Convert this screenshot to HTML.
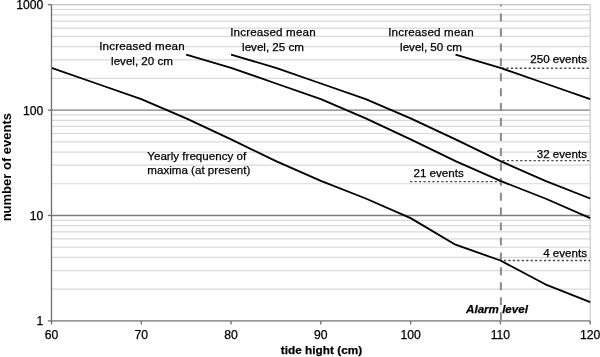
<!DOCTYPE html>
<html><head><meta charset="utf-8"><style>html,body{margin:0;padding:0;background:#fff;}svg{display:block;}</style></head>
<body>
<svg width="600" height="357" viewBox="0 0 600 357">
<rect width="600" height="357" fill="#fff"/>
<line x1="51.5" x2="590.2" y1="289.17" y2="289.17" stroke="#d9d9d9" stroke-width="1.2"/>
<line x1="51.5" x2="590.2" y1="270.61" y2="270.61" stroke="#d9d9d9" stroke-width="1.2"/>
<line x1="51.5" x2="590.2" y1="257.44" y2="257.44" stroke="#d9d9d9" stroke-width="1.2"/>
<line x1="51.5" x2="590.2" y1="247.23" y2="247.23" stroke="#d9d9d9" stroke-width="1.2"/>
<line x1="51.5" x2="590.2" y1="238.88" y2="238.88" stroke="#d9d9d9" stroke-width="1.2"/>
<line x1="51.5" x2="590.2" y1="231.83" y2="231.83" stroke="#d9d9d9" stroke-width="1.2"/>
<line x1="51.5" x2="590.2" y1="225.71" y2="225.71" stroke="#d9d9d9" stroke-width="1.2"/>
<line x1="51.5" x2="590.2" y1="220.32" y2="220.32" stroke="#d9d9d9" stroke-width="1.2"/>
<line x1="51.5" x2="590.2" y1="183.77" y2="183.77" stroke="#d9d9d9" stroke-width="1.2"/>
<line x1="51.5" x2="590.2" y1="165.21" y2="165.21" stroke="#d9d9d9" stroke-width="1.2"/>
<line x1="51.5" x2="590.2" y1="152.04" y2="152.04" stroke="#d9d9d9" stroke-width="1.2"/>
<line x1="51.5" x2="590.2" y1="141.83" y2="141.83" stroke="#d9d9d9" stroke-width="1.2"/>
<line x1="51.5" x2="590.2" y1="133.48" y2="133.48" stroke="#d9d9d9" stroke-width="1.2"/>
<line x1="51.5" x2="590.2" y1="126.43" y2="126.43" stroke="#d9d9d9" stroke-width="1.2"/>
<line x1="51.5" x2="590.2" y1="120.31" y2="120.31" stroke="#d9d9d9" stroke-width="1.2"/>
<line x1="51.5" x2="590.2" y1="114.92" y2="114.92" stroke="#d9d9d9" stroke-width="1.2"/>
<line x1="51.5" x2="590.2" y1="78.37" y2="78.37" stroke="#d9d9d9" stroke-width="1.2"/>
<line x1="51.5" x2="590.2" y1="59.81" y2="59.81" stroke="#d9d9d9" stroke-width="1.2"/>
<line x1="51.5" x2="590.2" y1="46.64" y2="46.64" stroke="#d9d9d9" stroke-width="1.2"/>
<line x1="51.5" x2="590.2" y1="36.43" y2="36.43" stroke="#d9d9d9" stroke-width="1.2"/>
<line x1="51.5" x2="590.2" y1="28.08" y2="28.08" stroke="#d9d9d9" stroke-width="1.2"/>
<line x1="51.5" x2="590.2" y1="21.03" y2="21.03" stroke="#d9d9d9" stroke-width="1.2"/>
<line x1="51.5" x2="590.2" y1="14.91" y2="14.91" stroke="#d9d9d9" stroke-width="1.2"/>
<line x1="51.5" x2="590.2" y1="9.52" y2="9.52" stroke="#d9d9d9" stroke-width="1.2"/>
<line x1="51.5" x2="590.2" y1="215.50" y2="215.50" stroke="#7d7d7d" stroke-width="1.3"/>
<line x1="51.5" x2="590.2" y1="110.10" y2="110.10" stroke="#7d7d7d" stroke-width="1.3"/>
<line x1="51.5" x2="590.2" y1="4.7" y2="4.7" stroke="#c4c4c4" stroke-width="1.3"/>
<line x1="590.2" x2="590.2" y1="4.70" y2="320.9" stroke="#c8c8c8" stroke-width="1.2"/>
<line x1="500.9" x2="500.9" y1="4.70" y2="320.9" stroke="#8a8a8a" stroke-width="2" stroke-dasharray="8 6.93" stroke-dashoffset="6.10"/>
<line x1="501.9" x2="590" y1="68.25" y2="68.25" stroke="#4a4a4a" stroke-width="1.3" stroke-dasharray="2.25 2.2"/>
<line x1="502.4" x2="590" y1="160.7" y2="160.7" stroke="#4a4a4a" stroke-width="1.3" stroke-dasharray="2.25 2.2"/>
<line x1="410.1" x2="500" y1="181.6" y2="181.6" stroke="#4a4a4a" stroke-width="1.3" stroke-dasharray="2.25 2.2"/>
<line x1="503.9" x2="590" y1="260.5" y2="260.5" stroke="#4a4a4a" stroke-width="1.3" stroke-dasharray="2.25 2.2"/>
<polyline points="51.50,67.80 96.39,83.50 141.28,99.10 186.18,118.30 231.07,139.30 275.96,161.10 320.85,180.90 365.74,198.50 410.63,218.10 455.53,244.70 500.42,260.50 545.31,284.30 590.20,302.20" fill="none" stroke="#000" stroke-width="1.85" stroke-linejoin="round"/>
<polyline points="186.18,54.60 231.07,67.80 275.96,83.50 320.85,99.10 365.74,118.30 410.63,139.30 455.53,161.10 500.42,180.90 545.31,198.50 590.20,218.10" fill="none" stroke="#000" stroke-width="1.85" stroke-linejoin="round"/>
<polyline points="231.07,54.60 275.96,67.80 320.85,83.50 365.74,99.10 410.63,118.30 455.53,139.30 500.42,161.10 545.31,180.90 590.20,198.50" fill="none" stroke="#000" stroke-width="1.85" stroke-linejoin="round"/>
<polyline points="455.53,54.60 500.42,67.80 545.31,83.50 590.20,99.10" fill="none" stroke="#000" stroke-width="1.85" stroke-linejoin="round"/>
<line x1="51.5" x2="51.5" y1="4.70" y2="320.9" stroke="#6e6e6e" stroke-width="1.3"/>
<line x1="51.5" x2="590.2" y1="320.9" y2="320.9" stroke="#999" stroke-width="1.8"/>
<line x1="47.8" x2="51.5" y1="320.90" y2="320.90" stroke="#6e6e6e" stroke-width="1.3"/>
<line x1="47.8" x2="51.5" y1="215.50" y2="215.50" stroke="#6e6e6e" stroke-width="1.3"/>
<line x1="47.8" x2="51.5" y1="110.10" y2="110.10" stroke="#6e6e6e" stroke-width="1.3"/>
<line x1="47.8" x2="51.5" y1="4.70" y2="4.70" stroke="#6e6e6e" stroke-width="1.3"/>
<line x1="51.50" x2="51.50" y1="320.9" y2="324.5" stroke="#6e6e6e" stroke-width="1.3"/>
<line x1="141.28" x2="141.28" y1="320.9" y2="324.5" stroke="#6e6e6e" stroke-width="1.3"/>
<line x1="231.07" x2="231.07" y1="320.9" y2="324.5" stroke="#6e6e6e" stroke-width="1.3"/>
<line x1="320.85" x2="320.85" y1="320.9" y2="324.5" stroke="#6e6e6e" stroke-width="1.3"/>
<line x1="410.63" x2="410.63" y1="320.9" y2="324.5" stroke="#6e6e6e" stroke-width="1.3"/>
<line x1="500.42" x2="500.42" y1="320.9" y2="324.5" stroke="#6e6e6e" stroke-width="1.3"/>
<line x1="590.20" x2="590.20" y1="320.9" y2="324.5" stroke="#6e6e6e" stroke-width="1.3"/>
<text x="43.4" y="9.099999999999932" font-family="Liberation Sans, Arial, sans-serif" font-size="12.2" text-anchor="end" fill="#000" stroke="#000" stroke-width="0.25" >1000</text>
<text x="43.4" y="114.49999999999997" font-family="Liberation Sans, Arial, sans-serif" font-size="12.2" text-anchor="end" fill="#000" stroke="#000" stroke-width="0.25" >100</text>
<text x="43.4" y="219.89999999999998" font-family="Liberation Sans, Arial, sans-serif" font-size="12.2" text-anchor="end" fill="#000" stroke="#000" stroke-width="0.25" >10</text>
<text x="43.4" y="325.29999999999995" font-family="Liberation Sans, Arial, sans-serif" font-size="12.2" text-anchor="end" fill="#000" stroke="#000" stroke-width="0.25" >1</text>
<text x="51.5" y="338.6" font-family="Liberation Sans, Arial, sans-serif" font-size="12.2" text-anchor="middle" fill="#000" stroke="#000" stroke-width="0.25" >60</text>
<text x="141.28333333333333" y="338.6" font-family="Liberation Sans, Arial, sans-serif" font-size="12.2" text-anchor="middle" fill="#000" stroke="#000" stroke-width="0.25" >70</text>
<text x="231.06666666666666" y="338.6" font-family="Liberation Sans, Arial, sans-serif" font-size="12.2" text-anchor="middle" fill="#000" stroke="#000" stroke-width="0.25" >80</text>
<text x="320.85" y="338.6" font-family="Liberation Sans, Arial, sans-serif" font-size="12.2" text-anchor="middle" fill="#000" stroke="#000" stroke-width="0.25" >90</text>
<text x="410.6333333333333" y="338.6" font-family="Liberation Sans, Arial, sans-serif" font-size="12.2" text-anchor="middle" fill="#000" stroke="#000" stroke-width="0.25" >100</text>
<text x="500.41666666666674" y="338.6" font-family="Liberation Sans, Arial, sans-serif" font-size="12.2" text-anchor="middle" fill="#000" stroke="#000" stroke-width="0.25" >110</text>
<text x="590.2" y="338.6" font-family="Liberation Sans, Arial, sans-serif" font-size="12.2" text-anchor="middle" fill="#000" stroke="#000" stroke-width="0.25" >120</text>
<text x="321.5" y="353.6" font-family="Liberation Sans, Arial, sans-serif" font-size="11.8" text-anchor="middle" fill="#000" stroke="#000" stroke-width="0.25" font-weight="bold">tide hight (cm)</text>
<text transform="translate(10.6,167.15) rotate(-90)" font-family="Liberation Sans, Arial, sans-serif" font-size="13" font-weight="bold" text-anchor="middle" fill="#000">number of events</text>
<text x="142" y="50.2" font-family="Liberation Sans, Arial, sans-serif" font-size="11.6" text-anchor="middle" fill="#000" stroke="#000" stroke-width="0.25" letter-spacing="0.18">Increased mean</text>
<text x="142" y="64.9" font-family="Liberation Sans, Arial, sans-serif" font-size="11.6" text-anchor="middle" fill="#000" stroke="#000" stroke-width="0.25" >level, 20 cm</text>
<text x="273" y="36.3" font-family="Liberation Sans, Arial, sans-serif" font-size="11.6" text-anchor="middle" fill="#000" stroke="#000" stroke-width="0.25" letter-spacing="0.18">Increased mean</text>
<text x="273" y="51.2" font-family="Liberation Sans, Arial, sans-serif" font-size="11.6" text-anchor="middle" fill="#000" stroke="#000" stroke-width="0.25" >level, 25 cm</text>
<text x="431" y="36.3" font-family="Liberation Sans, Arial, sans-serif" font-size="11.6" text-anchor="middle" fill="#000" stroke="#000" stroke-width="0.25" letter-spacing="0.18">Increased mean</text>
<text x="431" y="51.2" font-family="Liberation Sans, Arial, sans-serif" font-size="11.6" text-anchor="middle" fill="#000" stroke="#000" stroke-width="0.25" >level, 50 cm</text>
<text x="147.3" y="159.8" font-family="Liberation Sans, Arial, sans-serif" font-size="11.6" text-anchor="start" fill="#000" stroke="#000" stroke-width="0.25" >Yearly frequency of</text>
<text x="147.3" y="174.2" font-family="Liberation Sans, Arial, sans-serif" font-size="11.6" text-anchor="start" fill="#000" stroke="#000" stroke-width="0.25" >maxima (at present)</text>
<text x="587" y="63.3" font-family="Liberation Sans, Arial, sans-serif" font-size="11.6" text-anchor="end" fill="#000" stroke="#000" stroke-width="0.25" >250 events</text>
<text x="587" y="157.5" font-family="Liberation Sans, Arial, sans-serif" font-size="11.6" text-anchor="end" fill="#000" stroke="#000" stroke-width="0.25" >32 events</text>
<text x="413.5" y="176.7" font-family="Liberation Sans, Arial, sans-serif" font-size="11.6" text-anchor="start" fill="#000" stroke="#000" stroke-width="0.25" >21 events</text>
<text x="587" y="256.7" font-family="Liberation Sans, Arial, sans-serif" font-size="11.6" text-anchor="end" fill="#000" stroke="#000" stroke-width="0.25" >4 events</text>
<text x="497" y="313.3" font-family="Liberation Sans, Arial, sans-serif" font-size="11.6" text-anchor="middle" fill="#000" stroke="#000" stroke-width="0.25" font-weight="bold" font-style="italic">Alarm level</text>
</svg>
</body></html>
